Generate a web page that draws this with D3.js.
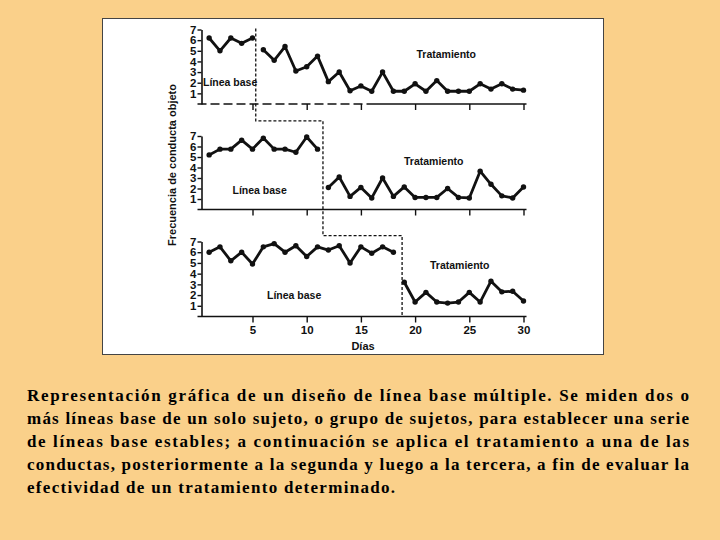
<!DOCTYPE html>
<html>
<head>
<meta charset="utf-8">
<script src="https://cdn.jsdelivr.net/npm/d3@7"></script>
<style>
  body { margin: 0; background: #FAD08A; }
  svg { display: block; }
</style>
</head>
<body>
<div id="chart"></div>
<script>
// Values (frequency per day, 30 days)
var baselineA  = [6.2, 5.0, 6.2, 5.7, 6.2];
var treatmentA = [5.1, 4.1, 5.4, 3.1, 3.5, 4.5, 2.1, 3.0, 1.25, 1.7, 1.2, 3.0, 1.2, 1.2, 1.9,
                  1.2, 2.2, 1.2, 1.2, 1.2, 1.9, 1.4, 1.9, 1.4, 1.3];
var baselineB  = [5.2, 5.75, 5.75, 6.6, 5.75, 6.8, 5.75, 5.75, 5.45, 6.9, 5.75];
var treatmentB = [2.1, 3.1, 1.25, 2.1, 1.1, 3.0, 1.25, 2.15, 1.15, 1.15, 1.15, 2.0, 1.15, 1.1,
                  3.65, 2.4, 1.3, 1.1, 2.15];
var baselineC  = [6.0, 6.5, 5.2, 6.0, 4.9, 6.5, 6.8, 6.0, 6.6, 5.6, 6.5, 6.2, 6.6, 5.0, 6.5,
                  5.9, 6.5, 6.0];
var treatmentC = [3.2, 1.35, 2.25, 1.35, 1.25, 1.35, 2.25, 1.35, 3.3, 2.3, 2.35, 1.45];

var dayTicks = [5, 10, 15, 20, 25, 30];
var yTicks = [1, 2, 3, 4, 5, 6, 7];
var phaseLabels = ["Línea base", "Tratamiento"];
var phaseChange = [5.3, 11.5, 18.8];   // where the dashed line falls between days

var caption = [
  "Representación gráfica de un diseño de línea base múltiple. Se miden dos o",
  "más líneas base de un solo sujeto, o grupo de sujetos, para establecer una serie",
  "de líneas base estables; a continuación se aplica el tratamiento a una de las",
  "conductas, posteriormente a la segunda y luego a la tercera, a fin de evaluar la",
  "efectividad de un tratamiento determinado."
];

var svg = d3.select("#chart").append("svg")
    .attr("width", 720)
    .attr("height", 540);

svg.append("rect").attr("width", 720).attr("height", 540).attr("fill", "#FAD08A");
svg.append("rect")
    .attr("x", 102.5).attr("y", 18.5)
    .attr("width", 501).attr("height", 336)
    .attr("fill", "#fff")
    .attr("stroke", "#444")
    .attr("stroke-width", 1);

var ink = "#111";
var sans = "'Liberation Sans', Arial, sans-serif";

var x = d3.scaleLinear().domain([0, 30]).range([198.3, 523.5]);
var axisX = 201.5;

// one panel per baseline
var panels = [
  { base: baselineA, treat: treatmentA, y: d3.scaleLinear().domain([0, 7]).range([104, 29.5]),
    baseLbl: [203, 86.3], treatLbl: [416.5, 58], dashedAxisTo: 370 },
  { base: baselineB, treat: treatmentB, y: d3.scaleLinear().domain([0, 7]).range([209.5, 136]),
    baseLbl: [232.5, 194.4], treatLbl: [404, 164.7] },
  { base: baselineC, treat: treatmentC, y: d3.scaleLinear().domain([0, 7]).range([316.5, 241.5]),
    baseLbl: [267, 298.7], treatLbl: [430, 268.7], showLabels: true }
];

var line = function(y) {
  return d3.line().x(function(d) { return x(d.day); }).y(function(d) { return y(d.v); });
};

panels.forEach(function(p, i) {
  var g = svg.append("g");
  var y = p.y;

  // y axis
  var yAxis = d3.axisLeft(y).tickValues(yTicks).tickFormat(d3.format("d"))
      .tickSize(4).tickSizeOuter(0);
  var ya = g.append("g")
      .attr("transform", "translate(" + axisX + ",0)")
      .call(yAxis);
  ya.select(".domain").attr("stroke", ink).attr("stroke-width", 1.6);
  ya.selectAll(".tick line").attr("stroke", ink).attr("stroke-width", 1.4);
  ya.selectAll(".tick text")
      .attr("x", -5)
      .style("font-family", sans)
      .style("font-weight", "bold")
      .style("font-size", "11.5px")
      .attr("fill", ink);

  // x axis
  var xAxis = d3.axisBottom(x).tickValues(dayTicks).tickSize(6).tickSizeOuter(0)
      .tickFormat(p.showLabels ? d3.format("d") : "");
  var xa = g.append("g")
      .attr("transform", "translate(0," + y(0) + ")")
      .call(xAxis);
  xa.select(".domain").remove();
  xa.selectAll(".tick line").attr("stroke", ink).attr("stroke-width", 1.4);
  xa.selectAll(".tick text")
      .attr("y", 9)
      .style("font-family", sans)
      .style("font-weight", "bold")
      .style("font-size", "11.5px")
      .attr("fill", ink);

  if (p.dashedAxisTo) {
    g.append("line")
        .attr("x1", axisX - 4).attr("x2", p.dashedAxisTo)
        .attr("y1", y(0)).attr("y2", y(0))
        .attr("stroke", ink).attr("stroke-width", 1.6)
        .attr("stroke-dasharray", "9,4");
    g.append("line")
        .attr("x1", p.dashedAxisTo).attr("x2", x(30) + 3)
        .attr("y1", y(0)).attr("y2", y(0))
        .attr("stroke", ink).attr("stroke-width", 1.6);
  } else {
    g.append("line")
        .attr("x1", axisX - 4).attr("x2", x(30) + 3)
        .attr("y1", y(0)).attr("y2", y(0))
        .attr("stroke", ink).attr("stroke-width", 1.6);
  }

  // series: baseline and treatment drawn separately
  var start = p.base.length + 1;
  var baseData = p.base.map(function(v, k) { return { day: k + 1, v: v }; });
  var treatData = p.treat.map(function(v, k) { return { day: start + k, v: v }; });

  [baseData, treatData].forEach(function(data) {
    g.append("path")
        .datum(data)
        .attr("d", line(y))
        .attr("fill", "none")
        .attr("stroke", ink)
        .attr("stroke-width", 2.8)
        .attr("stroke-linejoin", "round");
    g.selectAll(null)
        .data(data)
        .enter().append("circle")
        .attr("cx", function(d) { return x(d.day); })
        .attr("cy", function(d) { return y(d.v); })
        .attr("r", 2.7)
        .attr("fill", ink);
  });

  g.append("text")
      .attr("x", p.baseLbl[0]).attr("y", p.baseLbl[1])
      .style("font-family", sans).style("font-weight", "bold").style("font-size", "10.5px")
      .attr("fill", ink)
      .text(phaseLabels[0]);
  g.append("text")
      .attr("x", p.treatLbl[0]).attr("y", p.treatLbl[1])
      .style("font-family", sans).style("font-weight", "bold").style("font-size", "10.5px")
      .attr("fill", ink)
      .text(phaseLabels[1]);
});

// staircase of dashed phase lines
var yA = panels[0].y, yB = panels[1].y, yC = panels[2].y;
var stairs = [
  [x(phaseChange[0]), yA(7.1)],
  [x(phaseChange[0]), yB(8.45)],
  [x(phaseChange[1]), yB(8.45)],
  [x(phaseChange[1]), yC(7.55)],
  [x(phaseChange[2]), yC(7.55)],
  [x(phaseChange[2]), yC(0)]
];
svg.append("path")
    .attr("d", d3.line()(stairs))
    .attr("fill", "none")
    .attr("stroke", ink)
    .attr("stroke-width", 1.3)
    .attr("stroke-dasharray", "3,2");

// axis titles
svg.append("text")
    .attr("transform", "translate(176,165) rotate(-90)")
    .attr("text-anchor", "middle")
    .style("font-family", sans).style("font-weight", "bold").style("font-size", "11px")
    .attr("fill", ink)
    .text("Frecuencia de conducta objeto");

svg.append("text")
    .attr("x", 363).attr("y", 350)
    .attr("text-anchor", "middle")
    .style("font-family", sans).style("font-weight", "bold").style("font-size", "11px")
    .attr("fill", ink)
    .text("Días");

// caption, justified line by line
var capY = d3.scaleLinear().domain([0, 4]).range([401, 493]);
svg.selectAll(".cap")
    .data(caption)
    .enter().append("text")
    .attr("class", "cap")
    .attr("x", 27)
    .attr("y", function(d, i) { return capY(i); })
    .attr("textLength", function(d, i) { return i < caption.length - 1 ? 662 : 368; })
    .attr("lengthAdjust", "spacing")
    .style("font-family", "'Liberation Serif', 'Times New Roman', serif")
    .style("font-weight", "bold")
    .style("font-size", "17px")
    .attr("fill", "#000")
    .text(function(d) { return d; });
</script>
</body>
</html>
